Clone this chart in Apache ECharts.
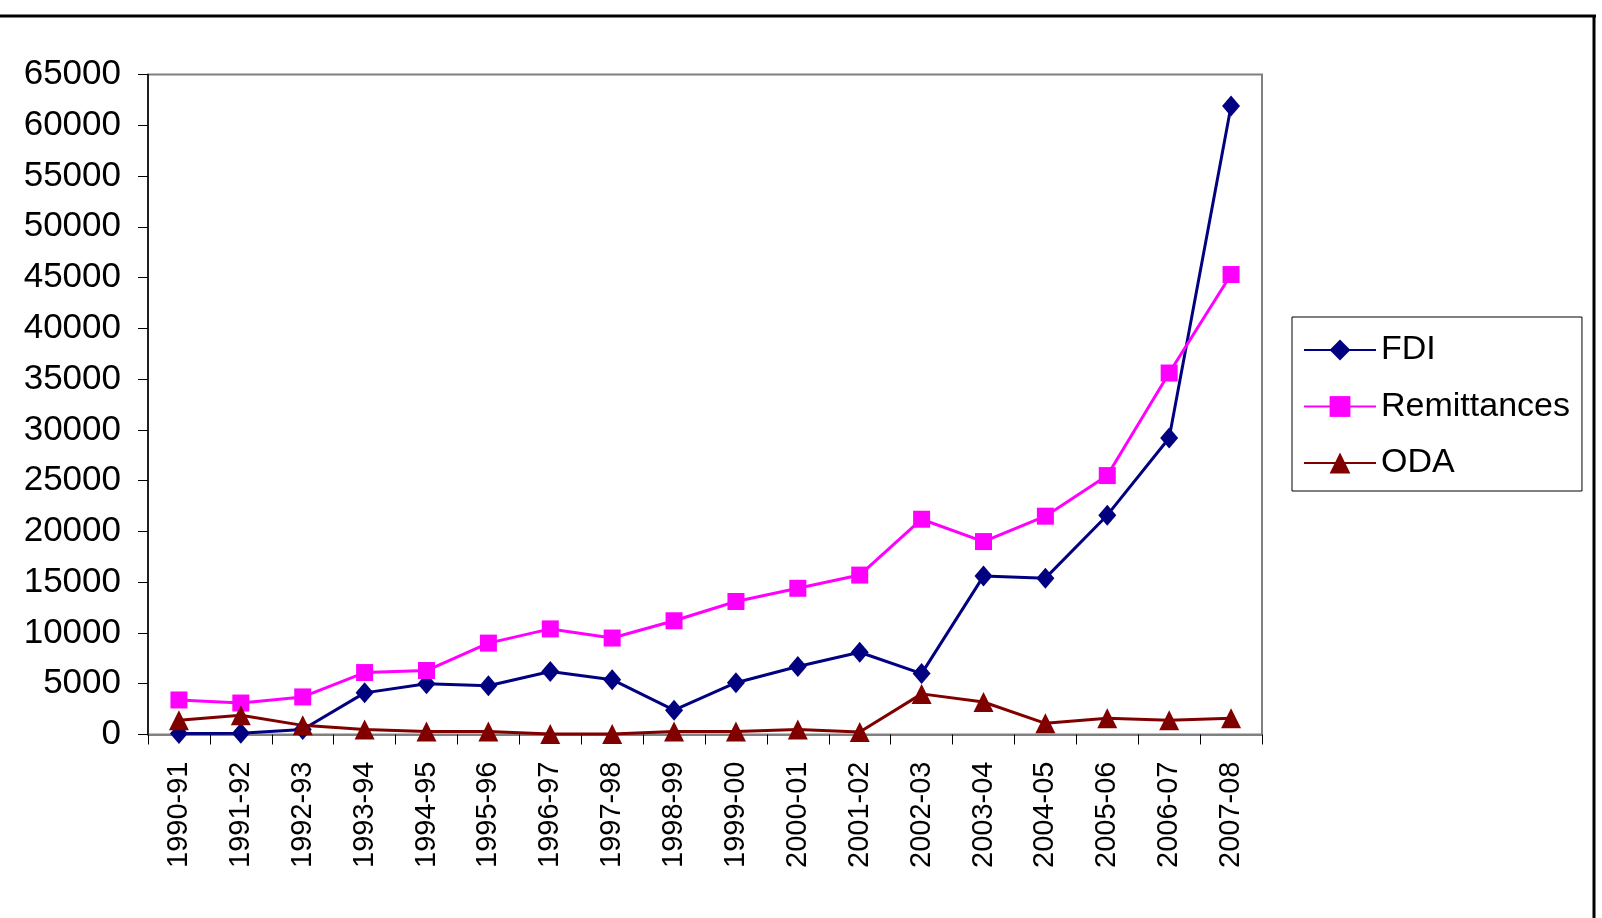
<!DOCTYPE html>
<html>
<head>
<meta charset="utf-8">
<title>FDI, Remittances and ODA</title>
<script src="https://cdn.jsdelivr.net/npm/echarts@6/dist/echarts.min.js"></script>
<style>
  html, body { margin: 0; padding: 0; background: #fff; }
  #chart { width: 1602px; height: 918px; }
</style>
</head>
<body>
<div id="chart"></div>
<script>
// 年份
var years = ['1990-91', '1991-92', '1992-93', '1993-94', '1994-95', '1995-96',
  '1996-97', '1997-98', '1998-99', '1999-00', '2000-01', '2001-02',
  '2002-03', '2003-04', '2004-05', '2005-06', '2006-07', '2007-08']

// 数据 (US$ million)
var fdi = [100, 130, 500, 4100, 5000, 4800, 6200, 5400, 2400, 5100, 6700, 8100,
  6000, 15600, 15400, 21600, 29200, 61900]
var remittances = [3400, 3100, 3700, 6100, 6300, 9000, 10400, 9500, 11200, 13100, 14400, 15700,
  21200, 19000, 21500, 25500, 35600, 45300]
var oda = [1400, 1900, 900, 500, 300, 300, 50, 50, 300, 300, 500, 250,
  4000, 3200, 1100, 1600, 1400, 1600]

// y轴刻度
var yMin = 0
var yMax = 65000
var yStep = 5000

var fontFamily = '"Liberation Sans", Arial, sans-serif'

var chart = echarts.init(document.getElementById('chart'))

function lineSeries(name, data, color, symbol, size) {
  return {
    name: name,
    type: 'line',
    data: data,
    symbol: symbol,
    symbolSize: size,
    showAllSymbol: true,
    animation: false,
    lineStyle: { color: color, width: 3 },
    itemStyle: { color: color }
  }
}

chart.setOption({
  animation: false,
  textStyle: { fontFamily: fontFamily },
  grid: {
    left: 148,
    top: 74.5,
    right: 340,
    bottom: 183.5,
    show: true,
    borderColor: '#808080',
    borderWidth: 2
  },
  legend: {
    orient: 'vertical',
    left: 1292,
    top: 317,
    padding: [13, 12, 8, 11],
    borderColor: '#000',
    borderWidth: 1,
    itemWidth: 72,
    itemHeight: 26,
    itemGap: 16.5,
    textStyle: { fontSize: 34, color: '#000', lineHeight: 40, fontFamily: fontFamily },
    data: ['FDI', 'Remittances', 'ODA']
  },
  xAxis: {
    type: 'category',
    data: years,
    boundaryGap: true,
    axisLine: { lineStyle: { color: '#808080', width: 2 } },
    axisTick: { show: true, length: 10, lineStyle: { color: '#000', width: 1 } },
    axisLabel: {
      interval: 0,
      rotate: 90,
      margin: 27,
      fontSize: 29,
      color: '#000',
      fontFamily: fontFamily
    },
    splitLine: { show: false }
  },
  yAxis: {
    type: 'value',
    min: yMin,
    max: yMax,
    interval: yStep,
    axisLine: { show: true, lineStyle: { color: '#000', width: 1.5 } },
    axisTick: { show: true, length: 10, lineStyle: { color: '#000', width: 1 } },
    axisLabel: {
      margin: 27,
      fontSize: 35,
      color: '#000',
      fontFamily: fontFamily,
      formatter: function(v) { return String(v) } // 不要千分位
    },
    splitLine: { show: false }
  },
  // 外框 (top and right edges of the original frame)
  graphic: [
    { type: 'line', shape: { x1: 0, y1: 16, x2: 1596, y2: 16 }, style: { stroke: '#000', lineWidth: 3 } },
    { type: 'line', shape: { x1: 1594, y1: 16, x2: 1594, y2: 918 }, style: { stroke: '#000', lineWidth: 3 } }
  ],
  series: [
    lineSeries('FDI', fdi, '#000080', 'diamond', [18, 21]),
    lineSeries('Remittances', remittances, '#ff00ff', 'rect', 17),
    lineSeries('ODA', oda, '#800000', 'triangle', 20)
  ]
})
</script>
</body>
</html>
